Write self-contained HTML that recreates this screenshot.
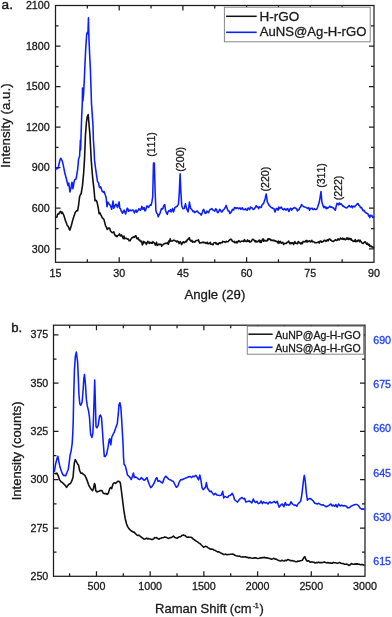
<!DOCTYPE html>
<html><head><meta charset="utf-8"><title>Figure</title><style>
html,body{margin:0;padding:0;background:#fff;width:392px;height:617px;overflow:hidden;}
svg{display:block;}
text{font-family:"Liberation Sans", Arial, sans-serif;fill:#1a1a1a;stroke:#1a1a1a;stroke-width:0.3px;font-kerning:none;}
.tl{font-size:10.7px;}
.ax{font-size:13px;}
.lg{font-size:13.5px;}
.lgb{font-size:10.5px;}
.pk{font-size:10.6px;}
.bl{fill:#1f3cff;stroke:#1f3cff;}
</style></head><body>
<svg width="392" height="617" viewBox="0 0 392 617">
<rect x="55.5" y="5.5" width="318.50" height="256.80" fill="none" stroke="#1e1e1e" stroke-width="1.25"/>
<path d="M119.20 262.30v-5.0M119.20 5.50v5.0M182.90 262.30v-5.0M182.90 5.50v5.0M246.60 262.30v-5.0M246.60 5.50v5.0M310.30 262.30v-5.0M310.30 5.50v5.0M87.35 262.30v-3.0M87.35 5.50v3.0M151.05 262.30v-3.0M151.05 5.50v3.0M214.75 262.30v-3.0M214.75 5.50v3.0M278.45 262.30v-3.0M278.45 5.50v3.0M342.15 262.30v-3.0M342.15 5.50v3.0M55.50 248.78h5.0M374.00 248.78h-5.0M55.50 208.24h5.0M374.00 208.24h-5.0M55.50 167.69h5.0M374.00 167.69h-5.0M55.50 127.14h5.0M374.00 127.14h-5.0M55.50 86.59h5.0M374.00 86.59h-5.0M55.50 46.05h5.0M374.00 46.05h-5.0M55.50 228.51h3.0M374.00 228.51h-3.0M55.50 187.96h3.0M374.00 187.96h-3.0M55.50 147.42h3.0M374.00 147.42h-3.0M55.50 106.87h3.0M374.00 106.87h-3.0M55.50 66.32h3.0M374.00 66.32h-3.0M55.50 25.77h3.0M374.00 25.77h-3.0" fill="none" stroke="#1e1e1e" stroke-width="1.25"/>
<polyline points="55.80,217.90 56.40,216.98 57.00,216.90 57.60,214.15 58.20,213.90 58.83,214.07 59.45,212.44 60.08,211.82 60.70,211.40 61.50,213.32 62.30,212.20 63.10,213.98 63.90,215.50 64.75,218.35 65.60,221.20 66.20,222.37 66.80,224.18 67.40,225.70 68.00,226.00 68.63,227.34 69.27,229.20 69.90,230.10 70.55,228.05 71.20,226.00 72.05,222.75 72.90,219.50 73.70,217.10 74.50,214.70 75.30,212.27 76.10,211.40 76.90,210.71 77.70,210.60 78.60,205.00 79.60,196.70 80.40,194.75 81.20,193.50 81.85,189.45 82.50,185.40 83.10,178.90 83.70,172.40 84.50,159.40 85.30,140.00 85.40,135.80 86.40,122.70 87.20,117.00 88.20,114.50 88.90,122.70 90.00,135.80 90.20,140.00 91.30,161.10 91.95,169.20 92.60,177.30 93.25,182.95 93.90,188.60 95.00,200.80 95.70,200.27 96.40,200.66 97.10,202.40 97.70,205.25 98.30,208.10 99.10,213.70 99.90,212.85 100.70,214.60 101.50,216.01 102.30,217.80 103.10,218.46 103.90,219.40 104.75,222.65 105.60,225.90 106.45,227.39 107.30,229.40 108.10,228.66 108.90,227.80 109.70,228.33 110.50,231.00 111.35,231.79 112.20,232.70 113.00,232.44 113.80,231.80 114.60,234.45 115.40,235.90 116.20,235.62 117.00,236.70 117.80,235.58 118.60,235.10 119.45,233.89 120.30,235.90 120.90,235.90 121.50,234.94 122.10,235.96 122.70,237.50 123.34,238.54 123.98,236.06 124.62,238.62 125.26,238.40 125.90,238.30 126.53,238.25 127.15,239.07 127.78,239.32 128.40,239.10 129.20,240.79 130.00,240.80 130.80,239.37 131.60,238.30 132.20,237.63 132.80,237.42 133.40,236.91 134.00,237.50 134.67,236.93 135.33,235.80 136.00,235.90 136.65,238.20 137.30,238.80 138.10,237.90 138.90,240.00 139.70,239.93 140.50,241.60 141.10,241.44 141.70,241.13 142.30,244.92 142.90,244.00 143.75,241.42 144.60,242.70 145.20,242.60 145.80,242.53 146.40,244.40 147.00,243.20 147.80,241.21 148.60,242.40 149.22,243.46 149.85,242.21 150.47,242.88 151.10,243.20 151.70,242.46 152.30,243.31 152.90,241.69 153.50,242.40 154.10,242.74 154.70,243.48 155.30,245.07 155.90,244.00 156.50,242.20 157.10,245.47 157.70,245.13 158.30,244.50 159.03,244.05 159.77,244.61 160.50,244.30 161.10,244.19 161.70,246.15 162.30,245.10 163.10,244.73 163.90,243.86 164.70,243.50 165.32,243.32 165.95,243.34 166.57,243.36 167.20,243.50 167.80,242.37 168.40,244.30 169.00,240.70 169.60,241.80 170.20,238.72 170.80,241.30 171.40,241.08 172.00,241.00 172.80,240.90 173.60,240.20 174.22,240.24 174.85,240.48 175.47,241.07 176.10,241.00 176.70,241.97 177.30,241.04 177.90,241.30 178.50,241.80 179.10,243.58 179.70,242.67 180.30,241.69 180.90,242.70 181.56,244.56 182.22,243.32 182.88,242.23 183.54,241.76 184.20,242.70 184.80,242.71 185.40,241.58 186.00,241.18 186.60,241.80 187.40,239.56 188.20,239.40 188.80,238.20 189.40,237.80 190.05,240.29 190.70,241.00 191.30,240.85 191.90,240.24 192.50,242.14 193.10,241.80 193.70,241.65 194.30,242.08 194.90,242.16 195.50,241.00 196.10,240.67 196.70,240.48 197.30,240.36 197.90,240.20 198.53,239.92 199.15,241.99 199.78,243.17 200.40,242.70 201.04,242.84 201.68,242.51 202.32,242.49 202.96,242.08 203.60,242.70 204.22,242.26 204.85,242.78 205.47,242.63 206.10,243.50 206.70,243.15 207.30,242.24 207.90,243.78 208.50,243.50 209.10,243.74 209.70,242.98 210.30,242.26 210.90,244.30 211.65,244.29 212.40,244.30 213.03,244.78 213.65,242.91 214.28,242.71 214.90,242.70 215.50,242.65 216.10,244.02 216.70,243.17 217.30,244.30 218.10,244.56 218.90,242.99 219.70,242.70 220.32,243.44 220.95,242.73 221.57,242.51 222.20,242.70 222.80,241.29 223.40,241.70 224.00,241.82 224.60,241.80 225.20,242.33 225.80,242.00 226.40,241.24 227.00,241.80 227.60,241.73 228.20,241.79 228.80,240.48 229.40,240.20 230.07,239.58 230.73,239.35 231.40,239.40 232.10,240.85 232.80,241.43 233.50,241.80 234.10,241.28 234.70,242.55 235.30,242.09 235.90,242.70 236.53,241.67 237.15,242.84 237.78,242.08 238.40,241.00 239.00,240.62 239.60,241.46 240.20,242.00 240.80,241.80 241.60,241.02 242.40,241.17 243.20,241.00 243.82,241.53 244.45,239.57 245.07,241.26 245.70,241.00 246.30,241.59 246.90,241.40 247.50,239.93 248.10,241.00 248.70,241.45 249.30,240.71 249.90,242.06 250.50,241.80 251.17,241.48 251.83,240.37 252.50,239.40 253.20,239.32 253.90,239.99 254.60,241.00 255.20,241.88 255.80,240.68 256.40,242.00 257.00,241.80 257.80,241.68 258.60,240.51 259.40,240.20 260.02,242.32 260.65,240.66 261.27,242.52 261.90,241.00 262.50,239.19 263.10,238.81 263.70,241.19 264.30,240.20 265.10,240.98 265.90,240.48 266.70,241.00 267.34,240.64 267.98,238.84 268.62,239.54 269.26,238.89 269.90,239.40 270.50,239.42 271.10,240.51 271.70,240.04 272.30,240.20 273.10,240.76 273.90,240.17 274.70,241.00 275.32,240.85 275.95,241.49 276.57,241.37 277.20,241.80 277.80,242.81 278.40,241.10 279.00,243.31 279.60,241.80 280.40,241.32 281.20,243.25 282.00,242.70 282.80,242.35 283.60,244.55 284.40,243.50 285.02,243.41 285.65,243.42 286.27,243.50 286.90,242.70 287.50,242.19 288.10,241.87 288.70,241.08 289.30,242.70 290.10,243.94 290.90,242.68 291.70,243.50 292.32,242.83 292.95,243.08 293.57,244.49 294.20,242.70 294.80,241.52 295.40,243.30 296.00,242.98 296.60,243.50 297.40,243.66 298.20,241.53 299.00,242.70 299.62,242.38 300.25,243.37 300.88,243.95 301.50,242.70 302.30,243.68 303.10,241.42 303.90,241.80 304.50,241.84 305.10,241.71 305.70,240.70 306.30,241.80 306.93,240.45 307.55,242.01 308.18,241.40 308.80,241.00 309.60,240.89 310.40,241.97 311.20,241.00 311.80,240.40 312.40,241.82 313.00,241.61 313.60,241.80 314.23,241.98 314.85,242.64 315.48,242.62 316.10,242.70 316.90,242.61 317.70,242.31 318.50,241.80 319.30,243.08 320.10,241.02 320.90,241.00 321.65,242.21 322.40,241.80 323.25,241.49 324.10,240.20 324.90,240.19 325.70,241.37 326.50,241.00 327.30,239.78 328.10,240.86 328.90,239.40 329.50,238.95 330.10,239.41 330.70,240.26 331.30,240.20 331.93,241.07 332.55,241.33 333.18,241.51 333.80,241.00 334.60,240.57 335.40,239.70 336.20,240.20 336.80,240.44 337.40,240.04 338.00,238.84 338.60,239.40 339.23,239.98 339.85,239.16 340.48,238.03 341.10,238.60 341.90,239.22 342.70,238.07 343.50,239.40 344.30,238.70 345.10,239.72 345.90,239.40 346.56,237.99 347.22,239.11 347.88,237.84 348.54,239.35 349.20,238.60 349.80,238.42 350.40,239.55 351.00,238.60 351.60,240.20 352.40,240.19 353.20,241.49 354.00,241.00 354.62,241.37 355.25,239.53 355.88,241.74 356.50,241.00 357.30,241.45 358.10,240.17 358.90,240.20 359.50,241.73 360.10,240.15 360.70,241.33 361.30,241.80 361.93,242.92 362.55,243.30 363.18,243.50 363.80,242.70 364.60,242.09 365.40,241.81 366.20,243.50 366.80,244.21 367.40,243.15 368.00,244.59 368.60,245.10 369.23,244.27 369.85,246.35 370.48,246.34 371.10,245.90 371.90,246.88 372.70,246.98 373.50,247.50 374.20,247.70" fill="none" stroke="#111" stroke-width="1.6" stroke-linejoin="round"/>
<polyline points="55.60,170.00 56.25,168.52 56.90,167.94 57.55,168.70 58.20,167.60 59.05,163.95 59.90,160.30 60.70,158.18 61.50,159.50 62.30,161.10 63.10,164.40 63.90,168.45 64.70,172.50 65.55,175.75 66.40,179.00 67.20,182.25 68.00,185.50 68.80,183.00 69.90,192.00 70.55,189.50 71.20,187.00 72.00,182.20 72.90,188.70 73.70,184.25 74.50,179.80 75.30,179.29 76.10,179.00 76.90,174.10 77.70,169.20 78.60,159.00 79.60,156.20 80.40,140.00 80.60,150.00 81.60,118.30 82.30,103.00 82.50,88.00 82.90,101.00 83.50,95.00 84.20,81.90 84.75,69.30 85.70,48.90 86.70,34.30 87.30,32.36 87.90,33.80 88.45,17.80 88.80,34.30 89.60,53.80 90.40,69.30 91.50,103.70 92.25,114.65 93.00,125.60 93.40,140.00 94.10,150.00 94.50,160.00 95.40,167.10 96.10,172.05 96.80,177.00 97.50,181.40 98.60,183.20 99.30,186.80 100.00,187.63 100.70,186.80 101.40,189.05 102.10,191.30 102.70,191.45 103.30,192.32 103.90,191.30 104.55,192.67 105.20,194.80 106.10,197.50 107.00,206.80 107.90,202.00 108.65,203.45 109.40,204.30 110.50,205.90 111.10,207.34 111.70,209.20 112.35,205.10 113.00,201.00 113.80,208.30 114.90,205.90 115.55,204.55 116.20,204.30 116.85,206.01 117.50,207.50 118.30,204.70 119.10,201.90 119.80,208.30 120.45,208.61 121.10,210.80 121.75,211.73 122.40,213.20 123.20,212.12 124.00,210.00 124.80,212.04 125.60,214.00 126.40,211.15 127.20,208.30 127.87,208.66 128.53,211.28 129.20,210.30 129.80,210.47 130.40,210.11 131.00,210.79 131.60,210.80 132.40,210.01 133.20,210.00 133.80,211.16 134.40,212.90 135.20,211.19 136.00,210.00 136.80,212.17 137.60,211.30 138.25,210.02 138.90,208.70 139.70,209.63 140.50,210.30 141.15,208.86 141.80,206.40 142.90,209.20 144.10,207.50 144.75,210.66 145.40,210.80 146.20,208.35 147.00,205.90 147.80,206.53 148.60,207.50 149.40,205.83 150.20,205.10 151.05,205.36 151.90,201.90 152.70,197.00 153.50,163.00 154.30,163.00 155.10,190.50 155.90,210.80 156.90,213.50 157.55,214.01 158.20,216.70 159.05,214.82 159.90,213.50 160.70,211.05 161.50,208.60 162.15,209.10 162.80,208.60 163.90,205.40 164.70,204.60 165.50,210.20 166.70,213.50 167.35,214.41 168.00,211.90 168.80,210.79 169.60,211.10 170.40,209.68 171.20,211.90 171.85,210.75 172.50,208.60 173.60,211.90 174.20,209.85 174.80,207.80 175.45,207.01 176.10,207.00 176.75,206.31 177.40,206.20 178.50,203.80 179.30,192.40 180.10,173.80 180.90,192.40 181.70,205.40 182.30,207.35 182.90,208.60 183.55,208.77 184.20,208.60 184.85,206.20 185.50,203.80 186.60,208.60 187.40,210.47 188.20,211.90 188.80,207.00 189.40,202.10 190.05,205.35 190.70,208.60 191.50,209.08 192.30,210.20 193.10,211.62 193.90,211.10 194.70,212.63 195.50,211.90 196.17,211.66 196.83,211.03 197.50,211.10 198.15,212.45 198.80,212.70 199.45,213.46 200.10,213.50 201.20,215.10 202.30,212.70 202.95,210.27 203.60,209.40 204.40,211.10 205.20,213.50 206.05,213.09 206.90,211.10 207.70,211.83 208.50,212.70 209.30,210.80 210.10,209.40 210.85,209.16 211.60,208.60 212.40,209.37 213.20,210.20 214.05,210.65 214.90,211.10 215.70,208.80 216.50,209.40 217.30,212.36 218.10,212.70 218.90,211.20 219.70,209.40 220.50,209.99 221.30,211.90 222.15,211.78 223.00,210.20 223.80,209.63 224.60,208.60 225.40,207.01 226.20,205.40 226.85,207.40 227.50,209.40 228.30,211.04 229.10,211.10 229.90,213.60 230.70,212.70 231.55,211.47 232.40,209.40 233.03,210.06 233.67,209.95 234.30,207.80 235.10,207.43 235.90,208.60 236.75,207.81 237.60,207.80 238.40,208.78 239.20,208.60 240.00,207.72 240.80,209.40 241.60,208.40 242.40,207.80 243.20,209.57 244.00,209.40 244.85,209.78 245.70,208.60 246.50,209.83 247.30,210.20 248.10,207.98 248.90,208.60 249.70,209.56 250.50,207.00 251.30,207.81 252.10,207.80 252.95,209.18 253.80,209.40 254.60,208.57 255.40,207.00 256.20,205.71 257.00,207.00 257.80,206.72 258.60,208.60 259.40,206.89 260.20,207.00 261.05,207.64 261.90,205.40 262.70,203.98 263.50,203.80 264.30,201.35 265.10,198.90 266.20,194.00 267.40,202.10 268.25,203.57 269.10,205.40 269.90,206.01 270.70,207.00 271.50,207.83 272.30,207.80 273.10,208.58 273.90,208.60 275.00,211.90 275.65,210.45 276.30,208.60 277.15,208.45 278.00,210.20 278.80,207.05 279.60,208.60 280.40,207.92 281.20,207.00 282.00,208.40 282.80,209.40 283.60,209.92 284.40,208.60 285.25,209.32 286.10,210.20 286.90,208.94 287.70,208.60 288.35,210.36 289.00,211.50 290.10,208.60 290.90,208.23 291.70,210.20 292.55,208.62 293.40,208.60 294.20,207.45 295.00,207.80 295.80,208.42 296.60,208.60 297.40,210.97 298.20,210.20 299.00,209.57 299.80,207.80 300.65,207.06 301.50,204.60 302.30,205.58 303.10,206.20 303.90,206.81 304.70,207.00 305.50,207.06 306.30,207.80 307.10,207.99 307.90,208.60 308.75,207.58 309.60,210.20 310.40,208.50 311.20,208.60 312.00,208.03 312.80,209.40 313.60,209.63 314.40,208.60 315.25,209.50 316.10,209.40 316.90,209.06 317.70,207.00 318.50,204.55 319.30,202.10 320.10,197.30 321.00,191.60 321.90,202.10 322.55,204.15 323.20,206.20 323.82,207.57 324.45,206.37 325.07,207.59 325.70,207.00 326.30,208.67 326.90,207.39 327.50,208.42 328.10,207.80 328.90,207.41 329.70,206.06 330.50,207.00 331.12,207.29 331.75,206.78 332.38,207.68 333.00,207.80 333.80,208.25 334.60,209.64 335.40,210.20 336.20,206.20 337.00,203.40 337.80,203.80 338.60,204.91 339.40,202.90 340.25,204.37 341.10,203.80 341.90,204.74 342.70,206.20 343.50,205.92 344.30,207.00 345.10,207.40 345.90,207.80 346.75,207.91 347.60,207.00 348.40,206.52 349.20,205.40 350.00,206.50 350.80,207.00 351.60,205.92 352.40,207.80 353.20,206.15 354.00,206.20 354.85,206.81 355.70,205.40 356.50,204.78 357.30,203.80 358.10,203.46 358.90,205.40 359.70,205.95 360.50,207.80 361.17,207.25 361.83,208.10 362.50,209.40 363.20,210.85 363.90,210.37 364.60,211.10 365.40,212.75 366.20,212.84 367.00,213.50 367.80,213.56 368.60,215.90 369.23,215.41 369.85,217.64 370.48,215.32 371.10,215.90 371.90,215.47 372.70,217.57 373.50,217.00 374.20,217.00" fill="none" stroke="#0a1eff" stroke-width="1.55" stroke-linejoin="round"/>
<text class="tl" x="49.7" y="252.58" text-anchor="end">300</text>
<text class="tl" x="49.7" y="212.04" text-anchor="end">600</text>
<text class="tl" x="49.7" y="171.49" text-anchor="end">900</text>
<text class="tl" x="49.7" y="130.94" text-anchor="end">1200</text>
<text class="tl" x="49.7" y="90.39" text-anchor="end">1500</text>
<text class="tl" x="49.7" y="49.85" text-anchor="end">1800</text>
<text class="tl" x="49.7" y="9.30" text-anchor="end">2100</text>
<text class="tl" x="55.50" y="276.9" text-anchor="middle">15</text>
<text class="tl" x="119.20" y="276.9" text-anchor="middle">30</text>
<text class="tl" x="182.90" y="276.9" text-anchor="middle">45</text>
<text class="tl" x="246.60" y="276.9" text-anchor="middle">60</text>
<text class="tl" x="310.30" y="276.9" text-anchor="middle">75</text>
<text class="tl" x="374.00" y="276.9" text-anchor="middle">90</text>
<text class="ax" x="214.9" y="298.5" text-anchor="middle" style="font-size:13.2px">Angle (2θ)</text>
<text class="ax" transform="translate(10.4,125.5) rotate(-90)" text-anchor="middle" style="font-size:13.3px">Intensity (a.u.)</text>
<text x="1.6" y="9.0" style="font-size:13.6px;stroke-width:0.45px">a.</text>
<rect x="224.4" y="7.2" width="145.8" height="34.6" fill="#fff" stroke="#888" stroke-width="1"/>
<path d="M226.1 16.3H256.7" stroke="#111" stroke-width="1.5"/>
<path d="M226.1 32.3H256.7" stroke="#0a1eff" stroke-width="1.6"/>
<text class="lg" x="259.6" y="21.0">H-rGO</text>
<text class="lg" x="259.8" y="36.4" textLength="106.6" lengthAdjust="spacingAndGlyphs">AuNS@Ag-H-rGO</text>
<text class="pk" transform="translate(155.40,144.50) rotate(-90)" text-anchor="middle">(111)</text>
<text class="pk" transform="translate(184.10,159.30) rotate(-90)" text-anchor="middle">(200)</text>
<text class="pk" transform="translate(269.40,179.10) rotate(-90)" text-anchor="middle">(220)</text>
<text class="pk" transform="translate(324.60,175.50) rotate(-90)" text-anchor="middle">(311)</text>
<text class="pk" transform="translate(342.30,188.00) rotate(-90)" text-anchor="middle">(222)</text>
<rect x="53.5" y="325.2" width="311.50" height="251.10" fill="none" stroke="#1e1e1e" stroke-width="1.25"/>
<path d="M96.47 576.30v-5.0M96.47 325.20v5.0M150.17 576.30v-5.0M150.17 325.20v5.0M203.88 576.30v-5.0M203.88 325.20v5.0M257.59 576.30v-5.0M257.59 325.20v5.0M311.29 576.30v-5.0M311.29 325.20v5.0M69.61 576.30v-3.0M69.61 325.20v3.0M123.32 576.30v-3.0M123.32 325.20v3.0M177.03 576.30v-3.0M177.03 325.20v3.0M230.73 576.30v-3.0M230.73 325.20v3.0M284.44 576.30v-3.0M284.44 325.20v3.0M338.15 576.30v-3.0M338.15 325.20v3.0M53.50 528.01h5.0M365.00 528.01h-5.0M53.50 479.72h5.0M365.00 479.72h-5.0M53.50 431.43h5.0M365.00 431.43h-5.0M53.50 383.15h5.0M365.00 383.15h-5.0M53.50 334.86h5.0M365.00 334.86h-5.0M53.50 552.16h3.0M365.00 552.16h-3.0M53.50 503.87h3.0M365.00 503.87h-3.0M53.50 455.58h3.0M365.00 455.58h-3.0M53.50 407.29h3.0M365.00 407.29h-3.0M53.50 359.00h3.0M365.00 359.00h-3.0" fill="none" stroke="#1e1e1e" stroke-width="1.25"/>
<polyline points="54.30,473.10 55.60,473.80 56.90,473.10 58.20,475.70 59.50,479.60 60.80,481.50 61.75,482.07 62.70,482.80 63.70,483.95 64.70,484.80 65.65,486.03 66.60,487.40 67.90,485.40 69.20,484.10 70.50,483.50 71.80,480.90 73.10,477.00 73.70,469.20 74.40,462.70 75.30,459.50 76.30,461.50 77.60,464.00 78.60,465.30 79.60,470.50 80.80,473.10 82.10,473.10 83.40,474.40 84.70,475.10 86.00,477.60 87.30,480.90 88.60,484.80 89.90,487.40 91.20,489.30 92.50,490.60 93.40,488.70 94.50,483.50 95.10,484.80 95.70,490.60 97.00,491.90 98.00,491.46 99.00,491.20 99.95,490.62 100.90,490.60 101.90,490.50 103.20,493.10 104.50,493.80 105.80,493.40 107.10,494.40 108.40,493.10 109.70,488.60 111.00,487.30 111.70,488.60 113.00,484.00 114.20,482.70 115.50,483.40 116.80,482.10 118.10,481.20 119.40,481.50 120.30,482.70 121.30,490.00 122.60,500.40 123.90,510.70 125.20,518.50 126.50,523.70 127.80,526.90 129.10,528.90 130.05,529.79 131.00,530.80 132.30,531.50 133.25,532.13 134.20,532.10 135.00,533.18 135.80,534.00 137.10,535.30 137.95,535.51 138.80,535.10 139.75,535.92 140.70,536.60 141.70,537.52 142.70,538.20 144.00,539.20 144.95,538.96 145.90,538.60 146.77,538.10 147.63,538.86 148.50,538.60 149.45,538.95 150.40,539.00 151.40,539.40 152.40,539.50 153.90,538.60 154.75,537.64 155.60,537.70 156.60,537.63 157.60,538.60 159.10,539.20 159.95,538.43 160.80,538.20 161.75,537.81 162.70,537.70 163.70,537.39 164.70,536.90 165.75,537.24 166.80,537.60 167.80,538.16 168.80,538.40 169.95,537.81 171.10,537.60 172.25,536.94 173.40,536.10 175.00,537.60 176.15,537.97 177.30,538.10 178.40,537.25 179.50,536.80 180.65,536.72 181.80,535.60 183.40,535.00 184.30,535.47 185.20,535.60 186.20,536.76 187.20,537.20 188.35,537.01 189.50,537.20 190.65,537.18 191.80,537.60 193.30,539.10 194.45,539.80 195.60,540.70 196.75,541.42 197.90,542.20 199.05,543.14 200.20,543.70 201.15,544.77 202.10,545.70 203.60,547.30 204.60,546.67 205.60,546.30 206.75,546.66 207.90,547.60 208.80,548.04 209.70,548.80 210.70,549.32 211.70,549.10 212.70,549.26 213.70,549.90 214.60,550.32 215.50,550.60 216.65,551.38 217.80,551.90 218.95,551.80 220.10,552.60 221.25,553.16 222.40,553.70 223.50,554.49 224.60,554.50 225.75,554.05 226.90,554.80 228.05,554.55 229.20,554.50 230.35,554.32 231.50,554.20 232.65,554.10 233.80,554.50 234.95,555.25 236.10,555.70 237.25,555.98 238.40,556.30 239.55,556.11 240.70,556.80 241.85,557.05 243.00,556.80 244.15,557.00 245.30,556.80 246.45,557.33 247.60,557.30 248.75,557.88 249.90,557.60 251.05,558.06 252.20,558.30 253.35,558.14 254.50,557.90 255.65,557.71 256.80,558.30 257.90,558.48 259.00,558.30 260.15,557.92 261.30,557.90 262.45,557.61 263.60,557.60 264.75,557.37 265.90,557.90 267.05,557.81 268.20,558.30 269.35,558.39 270.50,558.80 271.65,559.19 272.80,558.80 273.95,558.34 275.10,559.10 276.25,559.06 277.40,559.90 278.50,560.37 279.60,560.70 280.75,560.93 281.90,560.30 283.05,560.82 284.20,561.00 285.35,560.28 286.50,560.70 287.65,559.49 288.80,559.80 289.95,560.36 291.10,560.70 292.25,560.63 293.40,561.00 294.55,561.06 295.70,561.80 296.85,561.69 298.00,561.00 299.15,561.18 300.30,560.70 301.30,560.55 302.30,560.30 303.80,557.70 304.90,556.70 305.90,559.50 307.20,561.30 308.70,560.70 310.20,562.30 311.00,562.12 311.80,561.80 312.90,562.18 314.00,562.30 315.15,562.93 316.30,562.60 317.45,562.64 318.60,562.30 319.75,562.61 320.90,562.60 322.05,562.61 323.20,562.30 324.35,561.88 325.50,562.40 326.65,562.88 327.80,562.60 328.95,563.04 330.10,562.90 331.25,563.16 332.40,563.10 333.30,562.36 334.20,562.80 335.35,562.76 336.50,563.10 337.65,563.20 338.80,562.80 339.95,562.56 341.10,563.40 342.25,563.44 343.40,563.60 344.55,564.26 345.70,564.30 346.85,564.11 348.00,564.70 348.85,565.38 349.70,565.10 350.55,564.52 351.40,563.60 352.25,563.90 353.10,564.30 354.00,564.20 354.90,563.90 356.00,564.09 357.10,563.90 358.25,564.14 359.40,564.30 360.55,564.74 361.70,564.50 362.60,564.60 363.50,565.10 364.60,564.70" fill="none" stroke="#111" stroke-width="1.6" stroke-linejoin="round"/>
<polyline points="54.30,471.80 55.60,464.00 56.90,458.90 57.90,456.30 58.80,461.50 60.10,467.30 61.40,471.20 62.70,474.40 64.00,475.70 64.85,475.37 65.70,475.70 67.00,472.50 68.30,469.20 69.20,462.70 70.10,455.00 71.10,451.10 72.20,443.30 72.80,433.00 73.20,422.00 73.70,396.80 74.40,370.90 75.30,356.70 76.30,352.10 77.60,361.80 78.30,377.40 78.90,394.20 79.80,403.90 80.80,405.20 82.10,402.00 83.10,390.30 83.80,378.70 84.50,374.50 85.40,383.90 86.40,399.40 87.30,405.90 88.60,411.10 89.50,417.50 90.30,430.00 90.60,434.20 91.90,437.50 92.90,433.00 93.40,420.00 94.20,396.80 94.70,380.00 95.20,396.80 96.00,426.60 96.90,427.90 98.20,425.30 99.50,416.30 100.40,415.00 101.50,417.60 102.50,431.80 103.40,444.80 104.30,456.40 105.40,456.50 106.70,453.80 108.00,447.40 109.20,439.60 109.90,438.90 110.80,444.80 111.80,437.00 113.10,434.40 114.40,431.80 115.70,427.90 117.30,423.40 118.30,413.70 119.00,404.60 119.90,402.70 120.90,407.80 121.60,418.90 122.50,434.40 123.20,447.40 123.50,456.80 124.00,464.00 125.30,465.90 126.60,471.10 127.50,475.00 128.80,476.30 130.10,477.60 131.30,479.50 132.40,476.30 133.40,473.00 134.30,477.60 135.60,476.90 136.60,477.63 137.60,478.20 138.55,479.30 139.50,479.50 140.35,479.09 141.20,477.60 142.70,478.90 144.00,480.20 145.30,479.50 146.90,477.60 148.20,481.40 149.30,484.50 150.80,487.60 151.75,486.86 152.70,485.30 154.20,483.00 155.70,479.10 156.90,477.60 158.00,481.40 159.50,480.70 161.10,482.20 162.60,483.00 164.10,478.40 165.70,476.10 167.20,477.60 168.70,479.10 169.50,479.52 170.30,479.90 171.80,480.70 173.30,481.40 174.90,484.50 176.40,487.30 177.90,486.00 179.50,481.40 181.00,479.60 182.50,479.60 184.10,478.70 185.60,478.10 187.10,477.60 188.60,476.80 190.20,476.50 191.70,477.60 192.80,476.10 194.30,476.80 195.80,475.30 197.40,477.60 198.60,479.90 199.80,475.00 200.90,479.90 202.00,487.60 203.20,489.70 204.30,488.57 205.40,487.20 206.40,482.60 207.40,488.00 208.40,489.50 210.00,491.80 211.00,491.00 212.30,492.90 213.80,494.90 215.30,493.30 216.80,494.90 218.40,495.30 219.90,495.60 221.40,494.90 222.70,491.30 223.70,497.90 224.80,496.40 226.00,496.90 227.60,497.50 229.10,495.60 230.60,495.30 232.20,493.30 233.40,495.60 234.50,499.50 236.00,501.00 237.50,502.10 239.00,499.90 240.60,498.40 242.10,497.50 243.60,499.00 244.70,498.40 245.90,502.10 247.50,501.40 249.00,501.00 250.50,501.80 251.80,503.00 253.30,499.00 254.40,501.40 255.40,502.50 257.00,501.40 258.20,503.60 259.60,503.30 261.10,501.00 262.40,503.60 263.40,501.80 264.20,502.31 265.00,503.00 266.50,502.50 268.00,504.00 269.50,502.10 270.30,502.09 271.10,503.00 272.60,502.50 274.10,501.40 275.70,503.00 277.20,501.40 278.30,504.80 279.20,507.10 280.70,505.10 281.50,504.39 282.30,504.00 283.80,506.70 285.30,502.50 286.40,505.10 287.90,504.50 288.70,505.13 289.50,505.10 291.00,501.80 292.50,504.00 294.00,505.10 294.80,505.19 295.60,505.10 296.70,506.30 297.90,504.00 299.40,502.50 300.60,501.40 301.70,495.60 302.80,486.40 303.70,478.80 304.30,475.40 305.20,480.30 306.30,492.60 307.40,500.20 308.60,499.00 310.10,498.50 311.70,499.50 313.20,501.00 314.60,503.00 315.70,503.60 317.20,504.00 318.70,503.30 319.50,503.79 320.30,504.50 321.80,505.10 323.30,504.80 324.80,506.00 326.40,506.70 327.90,506.00 329.40,505.10 330.20,504.18 331.00,504.00 332.20,506.00 333.30,505.10 334.80,506.30 335.90,504.50 337.10,507.10 338.60,504.00 340.20,506.00 341.70,505.10 343.20,506.00 344.00,505.77 344.80,505.60 346.30,506.30 347.80,507.90 349.30,507.60 350.90,506.30 352.40,505.60 353.90,505.10 354.70,504.60 355.50,504.50 357.00,504.50 358.50,505.60 359.30,506.91 360.10,508.20 361.60,509.10 363.10,509.10 364.60,509.10" fill="none" stroke="#0a1eff" stroke-width="1.55" stroke-linejoin="round"/>
<text class="tl" x="48.3" y="579.80" text-anchor="end">250</text>
<text class="tl" x="48.3" y="531.51" text-anchor="end">275</text>
<text class="tl" x="48.3" y="483.22" text-anchor="end">300</text>
<text class="tl" x="48.3" y="434.93" text-anchor="end">325</text>
<text class="tl" x="48.3" y="386.65" text-anchor="end">350</text>
<text class="tl" x="48.3" y="338.36" text-anchor="end">375</text>
<text class="tl" x="96.47" y="590.1" text-anchor="middle">500</text>
<text class="tl" x="150.17" y="590.1" text-anchor="middle">1000</text>
<text class="tl" x="203.88" y="590.1" text-anchor="middle">1500</text>
<text class="tl" x="257.59" y="590.1" text-anchor="middle">2000</text>
<text class="tl" x="311.29" y="590.1" text-anchor="middle">2500</text>
<text class="tl" x="365.00" y="590.1" text-anchor="middle">3000</text>
<text class="tl bl" x="373.2" y="343.55">690</text>
<text class="tl bl" x="373.2" y="387.92">675</text>
<text class="tl bl" x="373.2" y="432.29">660</text>
<text class="tl bl" x="373.2" y="476.66">645</text>
<text class="tl bl" x="373.2" y="521.03">630</text>
<text class="tl bl" x="373.2" y="565.40">615</text>
<text class="ax" x="155.1" y="613.2">Raman Shift<tspan x="229.7">(</tspan><tspan x="234.2">cm</tspan><tspan x="252.8" y="607.8" style="font-size:7.2px">-</tspan><tspan x="254.8" y="608.3" style="font-size:7.2px">1</tspan><tspan x="259.6" y="613.2">)</tspan></text>
<text class="ax" transform="translate(21.4,450.8) rotate(-90)" text-anchor="middle">Intensity (counts)</text>
<text x="11.2" y="332.4" style="font-size:13.2px;stroke-width:0.4px">b.</text>
<rect x="247.3" y="326.2" width="116.3" height="28" fill="#fff" stroke="#888" stroke-width="1"/>
<path d="M248.4 334.2H272.6" stroke="#111" stroke-width="1.5"/>
<path d="M248.4 347.3H272.6" stroke="#0a1eff" stroke-width="1.6"/>
<text class="lgb" x="275.3" y="338.7">AuNP@Ag-H-rGO</text>
<text class="lgb" x="275.3" y="352.0">AuNS@Ag-H-rGO</text>
</svg></body></html>
